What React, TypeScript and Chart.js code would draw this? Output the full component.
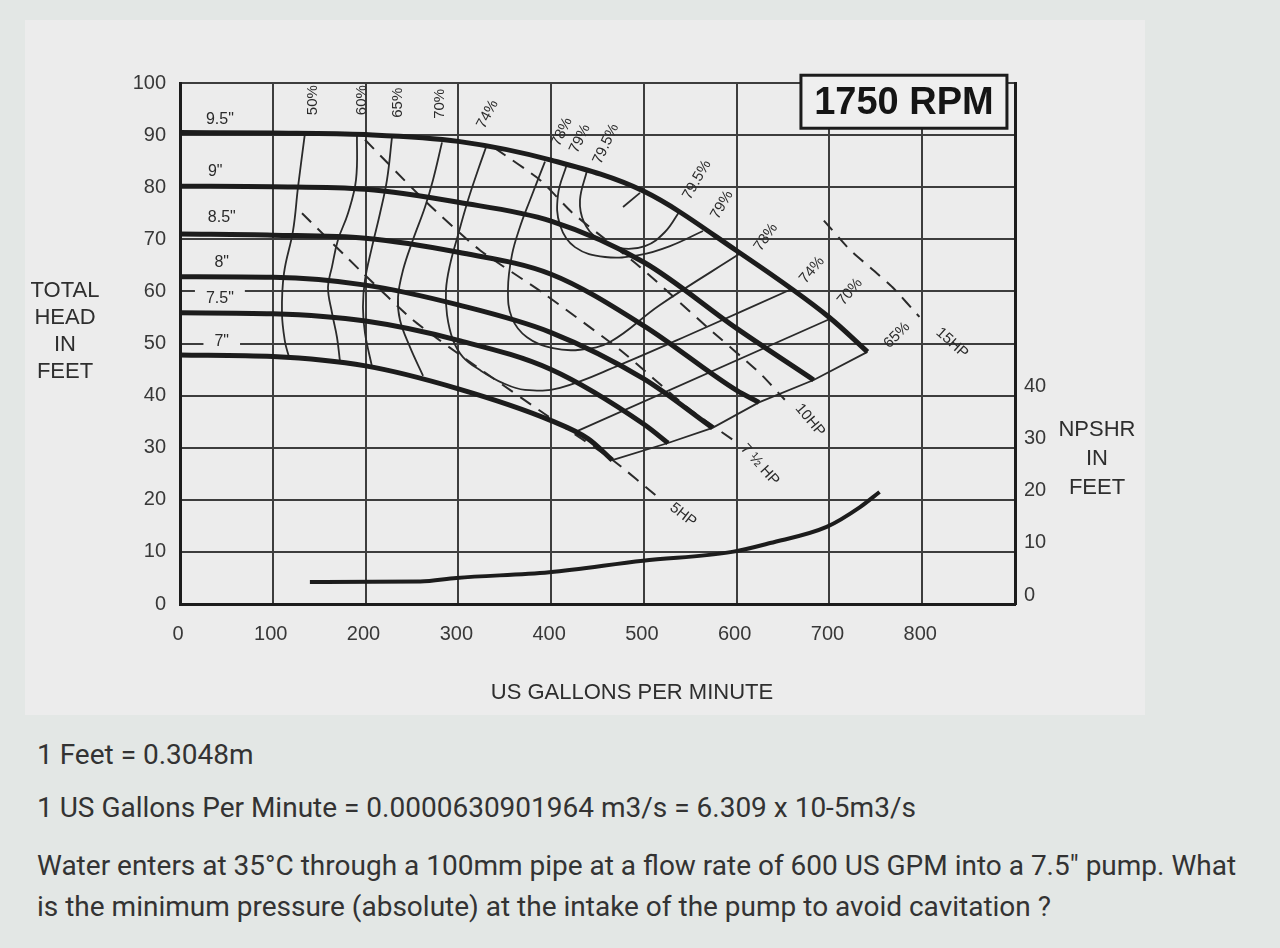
import React, { useEffect, useRef } from 'react';
import { Chart, registerables } from 'chart.js';
Chart.register(...registerables);

// ---- Head / capacity curves (US GPM -> feet) ----
const D95_GPM = [0, 100, 200, 300, 400, 500, 600, 700, 741];
const D95_FT = [90.5, 90.4, 90.1, 88.8, 85.2, 79.2, 67.8, 55.0, 48.4];
const D90_GPM = [0, 100, 200, 300, 400, 500, 600, 683];
const D90_FT = [80.2, 80.1, 79.6, 77.1, 73.5, 65.6, 52.9, 43.0];
const D85_GPM = [0, 100, 200, 300, 400, 500, 600, 624];
const D85_FT = [71.0, 70.8, 70.2, 67.5, 63.3, 53.4, 41.0, 38.7];
const D80_GPM = [0, 100, 200, 300, 400, 500, 574];
const D80_FT = [62.8, 62.7, 61.2, 57.4, 52.1, 43.2, 33.8];
const D75_GPM = [0, 100, 200, 300, 400, 500, 526];
const D75_FT = [55.9, 55.7, 54.3, 50.6, 45.0, 34.5, 30.9];
const D70_GPM = [0, 100, 200, 300, 400, 440, 466];
const D70_FT = [47.8, 47.5, 45.7, 41.3, 35.2, 31.7, 27.6];

// ---- NPSHR curve ----
const NPSHR_GPM = [140, 259, 298, 398, 499, 595, 636, 697, 733, 754];
const NPSHR_FT = [4.2, 4.3, 5.0, 6.1, 8.3, 10.0, 11.7, 14.8, 18.6, 21.5];

// ---- Efficiency contours [gpm, ft] ----
const EFF_50: [number, number][] = [[134.7, 90.4], [127.2, 80.0], [121.8, 71.6], [112.1, 63.5], [109.9, 55.9], [113.2, 50.3], [117.5, 47.4]];
const EFF_60: [number, number][] = [[190.8, 90.4], [189.7, 81.4], [181.1, 75.0], [170.3, 69.9], [163.8, 64.7], [159.5, 60.8], [163.8, 55.9], [169.2, 51.2], [172.4, 46.6]];
const EFF_65: [number, number][] = [[228.5, 89.6], [223.1, 81.4], [215.6, 75.0], [206.9, 68.5], [199.4, 62.2], [197.2, 57.0], [199.4, 52.0], [206.9, 45.6]];
const EFF_70_LEFT: [number, number][] = [[282.4, 88.6], [272.7, 81.4], [264.1, 76.2], [251.1, 69.9], [240.4, 64.1], [235.0, 58.9], [237.1, 54.5], [247.9, 49.3], [262.0, 43.8]];
const EFF_74: [number, number][] = [[330.9, 88.2], [321.2, 83.3], [310.4, 77.5], [299.6, 70.8], [291.0, 65.1], [286.7, 60.3], [287.8, 55.5], [294.2, 50.7], [305.0, 47.4], [323.3, 44.9], [348.1, 42.4], [371.8, 41.1], [409.6, 41.5], [474.2, 45.9], [560.5, 52.6], [660.0, 60.5]];
const EFF_78: [number, number][] = [[393.4, 84.9], [377.2, 77.5], [366.5, 72.4], [357.8, 67.0], [353.5, 60.3], [357.8, 54.9], [374.0, 51.2], [402.0, 49.1], [431.1, 48.8], [463.5, 50.3], [517.3, 57.4], [604.0, 67.3]];
const EFF_79: [number, number][] = [[417.0, 84.4], [407.4, 78.5], [409.6, 72.7], [425.7, 68.5], [458.1, 66.6], [495.8, 67.0], [528.1, 68.7], [563.7, 71.6]];
const EFF_795: [number, number][] = [[438.7, 83.2], [431.1, 77.5], [435.4, 73.3], [449.5, 70.2], [474.2, 68.3], [501.2, 68.7], [522.7, 71.4], [538.9, 75.5]];
const EFF_BEP_TICK: [number, number][] = [[477.5, 76.2], [495.8, 78.9]];
const EFF_70_RIGHT: [number, number][] = [[700.4, 54.7], [425.6, 33.0]];
const EFF_65_END: [number, number][] = [[741, 48.4], [683, 43.0], [624, 38.7], [574, 33.8], [526, 30.9], [466, 27.6]];

// ---- Horsepower (dashed) lines ----
const HP_5: [number, number][] = [[131.5, 75.0], [196.1, 63.7], [251.1, 54.5], [305.0, 47.4], [391.2, 36.7], [466.6, 27.6], [515.1, 20.5]];
const HP_75: [number, number][] = [[199.4, 89.1], [266.2, 77.0], [323.3, 67.9], [391.2, 59.7], [474.1, 48.8], [546.3, 37.8], [595.9, 31.5]];
const HP_10: [number, number][] = [[339.4, 87.5], [387.9, 81.4], [423.5, 75.0], [495.7, 64.7], [567.9, 53.2], [625.0, 44.3], [651.9, 39.2]];
const HP_15: [number, number][] = [[694.0, 73.6], [722.0, 68.0], [751.0, 63.5], [768.0, 60.8], [797.0, 55.1]];

// ---- Axis ticks ----
const X_TICKS_SHOWN = [0, 100, 200, 300, 400, 500, 600, 700, 800];
const NPSHR_TICKS_SHOWN = [0, 10, 20, 30, 40];

// ---- Text annotations on the chart ----
type Ann = { text: string; gpm: number; ft: number; rot: number; bg?: boolean };
const DIAMETER_LABELS: Ann[] = [
  { text: '9.5"', gpm: 43, ft: 92.9, rot: 0 },
  { text: '9"', gpm: 38, ft: 82.9, rot: 0 },
  { text: '8.5"', gpm: 45, ft: 74.1, rot: 0 },
  { text: '8"', gpm: 45, ft: 65.6, rot: 0 },
  { text: '7.5"', gpm: 43, ft: 58.7, rot: 0, bg: true },
  { text: '7"', gpm: 45, ft: 50.3, rot: 0, bg: true },
];
const EFF_LABELS: Ann[] = [
  { text: '50%', gpm: 143.4, ft: 96.7, rot: -90 },
  { text: '60%', gpm: 196.2, ft: 96.7, rot: -90 },
  { text: '65%', gpm: 235.0, ft: 96.2, rot: -90 },
  { text: '70%', gpm: 280.2, ft: 96.0, rot: -90 },
  { text: '74%', gpm: 331.5, ft: 94.0, rot: -62 },
  { text: '78%', gpm: 411.7, ft: 90.6, rot: -65 },
  { text: '79%', gpm: 431.1, ft: 89.3, rot: -65 },
  { text: '79.5%', gpm: 459.1, ft: 88.3, rot: -65 },
  { text: '79.5%', gpm: 557.2, ft: 81.4, rot: -60 },
  { text: '79%', gpm: 584.2, ft: 76.6, rot: -60 },
  { text: '78%', gpm: 631.6, ft: 70.4, rot: -55 },
  { text: '74%', gpm: 681.2, ft: 64.1, rot: -50 },
  { text: '70%', gpm: 722.1, ft: 59.9, rot: -50 },
  { text: '65%', gpm: 772.8, ft: 51.6, rot: -45 },
];
const HP_LABELS: Ann[] = [
  { text: '15HP', gpm: 832.1, ft: 50.1, rot: 42 },
  { text: '10HP', gpm: 679.0, ft: 35.3, rot: 50 },
  { text: '7 ½ HP', gpm: 625.0, ft: 26.7, rot: 48 },
  { text: '5HP', gpm: 542.1, ft: 17.1, rot: 38 },
];
const RPM_TEXT = '1750 RPM';
const RPM_AT = { gpm: 780.3, ft: 96.5 };

const INK = '#1c1c1c';
const GRID = '#3d3d3d';
const PANEL = '#ececec';
const FONT = "'Liberation Sans', Arial, sans-serif";

const pairs = (g: number[], f: number[]) => g.map((x, i) => ({ x, y: f[i] }));
const pts = (a: [number, number][]) => a.map(([x, y]) => ({ x, y }));

export default function App() {
  const ref = useRef<HTMLCanvasElement | null>(null);
  useEffect(() => {
    if (!ref.current) return;
    const thick = (label: string, data: any[]) => ({
      label, data, borderColor: INK, borderWidth: 5, pointRadius: 0,
      cubicInterpolationMode: 'monotone' as const, fill: false, order: 1,
    });
    const thin = (label: string, data: any[], tension = 0.4) => ({
      label, data, borderColor: '#2a2a2a', borderWidth: 1.8, pointRadius: 0,
      tension, fill: false, order: 3,
    });
    const dashed = (label: string, data: any[]) => ({
      label, data, borderColor: '#2a2a2a', borderWidth: 2, pointRadius: 0,
      borderDash: [13, 9], tension: 0.2, fill: false, order: 2,
    });
    const annPlugin = {
      id: 'annotations',
      afterDatasetsDraw(chart: any) {
        const { ctx } = chart;
        const xs = chart.scales.x, ys = chart.scales.y;
        const draw = (list: Ann[], size: number) => {
          list.forEach((a) => {
            const px = xs.getPixelForValue(a.gpm);
            const py = ys.getPixelForValue(a.ft);
            ctx.save();
            ctx.translate(px, py);
            ctx.rotate((a.rot * Math.PI) / 180);
            ctx.font = `${size}px ${FONT}`;
            ctx.textAlign = 'center';
            ctx.textBaseline = 'middle';
            if (a.bg) {
              const w = ctx.measureText(a.text).width + 22;
              ctx.fillStyle = PANEL;
              ctx.fillRect(-w / 2, -9, w, 18);
            }
            ctx.fillStyle = '#2b2b2b';
            ctx.fillText(a.text, 0, 0);
            ctx.restore();
          });
        };
        draw(DIAMETER_LABELS, 16);
        draw(EFF_LABELS, 15);
        draw(HP_LABELS, 15);
        // RPM box
        const cx = xs.getPixelForValue(RPM_AT.gpm);
        const cy = ys.getPixelForValue(RPM_AT.ft);
        ctx.save();
        ctx.fillStyle = '#efefef';
        ctx.strokeStyle = INK;
        ctx.lineWidth = 3;
        ctx.fillRect(cx - 103, cy - 26, 206, 53);
        ctx.strokeRect(cx - 103, cy - 26, 206, 53);
        ctx.font = `bold 38px ${FONT}`;
        ctx.fillStyle = '#151515';
        ctx.textAlign = 'center';
        ctx.textBaseline = 'middle';
        ctx.fillText(RPM_TEXT, cx, cy + 2);
        ctx.restore();
      },
    };
    const chart = new Chart(ref.current, {
      type: 'line',
      data: {
        datasets: [
          thick('9.5"', pairs(D95_GPM, D95_FT)),
          thick('9"', pairs(D90_GPM, D90_FT)),
          thick('8.5"', pairs(D85_GPM, D85_FT)),
          thick('8"', pairs(D80_GPM, D80_FT)),
          thick('7.5"', pairs(D75_GPM, D75_FT)),
          thick('7"', pairs(D70_GPM, D70_FT)),
          { ...thick('NPSHR', pairs(NPSHR_GPM, NPSHR_FT)), borderWidth: 4, yAxisID: 'y2' },
          thin('50%', pts(EFF_50)),
          thin('60%', pts(EFF_60)),
          thin('65%', pts(EFF_65)),
          thin('70%', pts(EFF_70_LEFT)),
          thin('74%', pts(EFF_74)),
          thin('78%', pts(EFF_78)),
          thin('79%', pts(EFF_79)),
          thin('79.5%', pts(EFF_795)),
          thin('BEP', pts(EFF_BEP_TICK), 0),
          thin('70% r', pts(EFF_70_RIGHT), 0),
          thin('65% end', pts(EFF_65_END), 0),
          dashed('5HP', pts(HP_5)),
          dashed('7.5HP', pts(HP_75)),
          dashed('10HP', pts(HP_10)),
          dashed('15HP', pts(HP_15)),
        ],
      },
      options: {
        responsive: false,
        animation: false,
        parsing: true,
        layout: { padding: { left: 120, right: 205, top: 83, bottom: 76 } },
        plugins: { legend: { display: false }, tooltip: { enabled: false } },
        scales: {
          x: {
            type: 'linear', min: 0, max: 900,
            afterFit: (s: any) => { s.height = 40; },
            grid: { color: GRID, lineWidth: 2, drawTicks: false },
            border: { display: true, color: INK, width: 3 },
            ticks: {
              stepSize: 100, padding: 18, color: '#383838', labelOffset: -2,
              font: { family: FONT, size: 20 },
              callback: (v: any) => (X_TICKS_SHOWN.includes(Number(v)) ? String(v) : ''),
            },
          },
          y: {
            type: 'linear', min: 0, max: 100,
            afterFit: (s: any) => { s.width = 60; },
            grid: { color: GRID, lineWidth: 2, drawTicks: false },
            border: { display: true, color: INK, width: 3 },
            ticks: { stepSize: 10, padding: 14, color: '#383838', font: { family: FONT, size: 20 } },
          },
          y2: {
            type: 'linear', position: 'right', min: 0, max: 100,
            afterFit: (s: any) => { s.width = 60; },
            grid: { display: false, drawTicks: false },
            border: { display: true, color: INK, width: 3 },
            ticks: {
              stepSize: 10, padding: 9, color: '#383838', labelOffset: -9,
              font: { family: FONT, size: 20 },
              callback: (v: any) => (NPSHR_TICKS_SHOWN.includes(Number(v)) ? String(v) : ''),
            },
          },
        },
      },
      plugins: [annPlugin],
    });
    return () => chart.destroy();
  }, []);

  const titleStyle: React.CSSProperties = {
    position: 'absolute', fontFamily: FONT, fontSize: 22, color: '#2e2e2e',
    textAlign: 'center', lineHeight: '27px',
  };
  const bodyStyle: React.CSSProperties = {
    position: 'absolute', left: 37, fontFamily: 'Roboto, sans-serif', fontSize: 28,
    color: '#333', whiteSpace: 'nowrap', lineHeight: '32px',
  };
  return (
    <div style={{ position: 'fixed', left: 0, top: 0, width: 1280, height: 948, background: '#e3e7e5', overflow: 'hidden' }}>
      <div style={{ position: 'absolute', left: 25, top: 20, width: 1120, height: 695, background: PANEL }} />
      <canvas ref={ref} width={1280} height={720} style={{ position: 'absolute', left: 0, top: 0, width: 1280, height: 720 }} />
      <div style={{ ...titleStyle, left: 15, top: 276, width: 100 }}>TOTAL<br />HEAD<br />IN<br />FEET</div>
      <div style={{ ...titleStyle, left: 1047, top: 414, width: 100, lineHeight: '29px' }}>NPSHR<br />IN<br />FEET</div>
      <div style={{ ...titleStyle, left: 432, top: 678, width: 400 }}>US GALLONS PER MINUTE</div>
      <div style={{ ...bodyStyle, top: 739 }}>1 Feet = 0.3048m</div>
      <div style={{ ...bodyStyle, top: 792 }}>1 US Gallons Per Minute = 0.0000630901964 m3/s = 6.309 x 10-5m3/s</div>
      <div style={{ ...bodyStyle, top: 850 }}>Water enters at 35°C through a 100mm pipe at a flow rate of 600 US GPM into a 7.5" pump. What</div>
      <div style={{ ...bodyStyle, top: 891 }}>is the minimum pressure (absolute) at the intake of the pump to avoid cavitation ?</div>
    </div>
  );
}
